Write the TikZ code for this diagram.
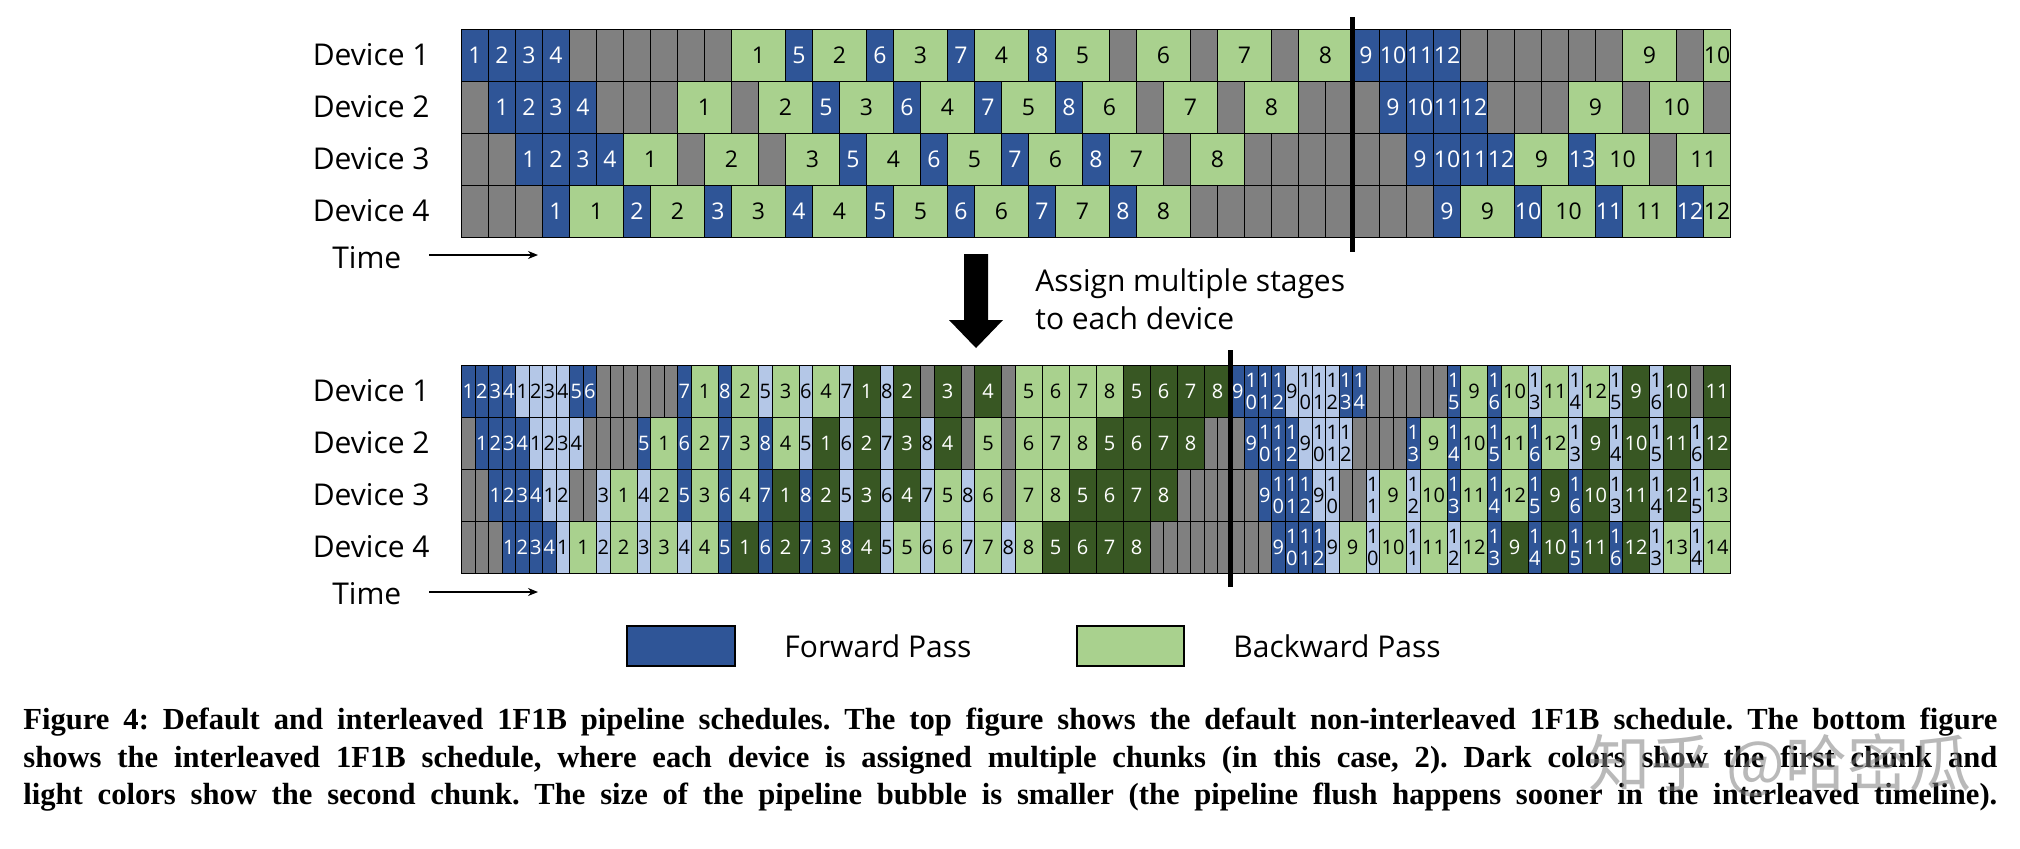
\documentclass[tikz,border=0pt]{standalone}
\usepackage{fontspec}
\setmainfont{Liberation Serif}
\newfontfamily\sfx{Open Sans}
\newfontfamily\cjk{Noto Sans CJK SC}
\usetikzlibrary{arrows.meta}
\definecolor{dblue}{HTML}{2F5597}
\definecolor{lblue}{HTML}{B4C7E7}
\definecolor{lgreen}{HTML}{A9D18E}
\definecolor{dgreen}{HTML}{385723}
\definecolor{cgray}{HTML}{808080}
\newcount\cpos
\newcommand\tw[2]{#1\\#2}
\def\cellfont{\sfx\fontsize{11.5}{12}\selectfont}
\tikzset{
 cell/.style={draw=black,line width=0.5pt,inner sep=0pt,anchor=north west,align=center,minimum height=26pt,font=\cellfont},
 F/.style={cell,fill=dblue,text=white},
 f/.style={cell,fill=lblue,text=black},
 b/.style={cell,fill=lgreen,text=black},
 h/.style={cell,fill=lgreen,text=black},
 B/.style={cell,fill=dgreen,text=white},
 G/.style={cell,fill=cgray},
 dev/.style={font=\sfx\fontsize{15}{18}\selectfont,anchor=east,inner sep=0pt},
 lbl/.style={font=\sfx\fontsize{15}{19}\selectfont,inner sep=0pt},
 captxt/.style={font=\frenchspacing\bfseries\fontsize{15.3}{18}\selectfont,anchor=west,inner sep=0pt},
 tarrow/.style={-{Stealth[length=5pt,width=4pt]},line width=0.7pt},
 flush/.style={line width=2.5pt}
}
\newcommand\schedrow[5]{%
 \global\cpos=0
 \foreach \k/\t in {#5}{%
   \if\k b\def\len{2}\else\if\k B\def\len{2}\else\def\len{1}\fi\fi
   \node[\k, minimum width=\len*#3*0.5pt] (#1-#2-\the\cpos) at ({461+\the\cpos*#3},{#4}) {\t};
   \global\advance\cpos by \len\relax
 }}
\begin{document}
\begin{tikzpicture}[x=0.5pt,y=-0.5pt]
\useasboundingbox[fill=white] (0,0) rectangle (2020,848);
% ---- top schedule ----
\schedrow{t}{1}{27}{29}{F/1,F/2,F/3,F/4,G/{},G/{},G/{},G/{},G/{},G/{},b/1,F/5,b/2,F/6,b/3,F/7,b/4,F/8,b/5,G/{},b/6,G/{},b/7,G/{},b/8,F/9,F/10,F/11,F/12,G/{},G/{},G/{},G/{},G/{},G/{},b/9,G/{},h/10}
\schedrow{t}{2}{27}{81}{G/{},F/1,F/2,F/3,F/4,G/{},G/{},G/{},b/1,G/{},b/2,F/5,b/3,F/6,b/4,F/7,b/5,F/8,b/6,G/{},b/7,G/{},b/8,G/{},G/{},G/{},F/9,F/10,F/11,F/12,G/{},G/{},G/{},b/9,G/{},b/10,G/{}}
\schedrow{t}{3}{27}{133}{G/{},G/{},F/1,F/2,F/3,F/4,b/1,G/{},b/2,G/{},b/3,F/5,b/4,F/6,b/5,F/7,b/6,F/8,b/7,G/{},b/8,G/{},G/{},G/{},G/{},G/{},G/{},F/9,F/10,F/11,F/12,b/9,F/13,b/10,G/{},b/11}
\schedrow{t}{4}{27}{185}{G/{},G/{},G/{},F/1,b/1,F/2,b/2,F/3,b/3,F/4,b/4,F/5,b/5,F/6,b/6,F/7,b/7,F/8,b/8,G/{},G/{},G/{},G/{},G/{},G/{},G/{},G/{},G/{},F/9,b/9,F/10,b/10,F/11,b/11,F/12,h/12}
\foreach \i/\y in {1/55,2/107,3/159,4/211}{\node[dev] (td\i) at (430,\y) {Device \i};}
\node[lbl,anchor=west] (ttime) at (332,258) {Time};
\coordinate (ta1) at (429,255); \coordinate (ta2) at (538,255);
\draw[tarrow] (ta1) -- (ta2);
\coordinate (tf1) at (1352,17); \coordinate (tf2) at (1352,252);
\draw[flush] (tf1) -- (tf2);
% big arrow
\fill[black] (964,254) -- (988,254) -- (988,320) -- (1003,320) -- (976,348) -- (949,320) -- (964,320) -- cycle;
\node[lbl,anchor=west,align=left] (assign) at (1035,299) {Assign multiple stages\\to each device};
% ---- bottom schedule ----
\def\cellfont{\sfx\fontsize{10}{11}\selectfont}
\schedrow{b}{1}{13.5}{365}{F/1,F/2,F/3,F/4,f/1,f/2,f/3,f/4,F/5,F/6,G/{},G/{},G/{},G/{},G/{},G/{},F/7,b/1,F/8,b/2,f/5,b/3,f/6,b/4,f/7,B/1,f/8,B/2,G/{},B/3,G/{},B/4,G/{},b/5,b/6,b/7,b/8,B/5,B/6,B/7,B/8,F/9,F/\tw10,F/\tw11,F/\tw12,f/9,f/\tw10,f/\tw11,f/\tw12,F/\tw13,F/\tw14,G/{},G/{},G/{},G/{},G/{},G/{},F/\tw15,b/9,F/\tw16,b/10,f/\tw13,b/11,f/\tw14,b/12,f/\tw15,B/9,f/\tw16,B/10,G/{},B/11}
\schedrow{b}{2}{13.5}{417}{G/{},F/1,F/2,F/3,F/4,f/1,f/2,f/3,f/4,G/{},G/{},G/{},G/{},F/5,b/1,F/6,b/2,F/7,b/3,F/8,b/4,f/5,B/1,f/6,B/2,f/7,B/3,f/8,B/4,G/{},b/5,G/{},b/6,b/7,b/8,B/5,B/6,B/7,B/8,G/{},G/{},G/{},F/9,F/\tw10,F/\tw11,F/\tw12,f/9,f/\tw10,f/\tw11,f/\tw12,G/{},G/{},G/{},G/{},F/\tw13,b/9,F/\tw14,b/10,F/\tw15,b/11,F/\tw16,b/12,f/\tw13,B/9,f/\tw14,B/10,f/\tw15,B/11,f/\tw16,B/12}
\schedrow{b}{3}{13.5}{469}{G/{},G/{},F/1,F/2,F/3,F/4,f/1,f/2,G/{},G/{},f/3,b/1,f/4,b/2,F/5,b/3,F/6,b/4,F/7,B/1,F/8,B/2,f/5,B/3,f/6,B/4,f/7,b/5,f/8,b/6,G/{},b/7,b/8,B/5,B/6,B/7,B/8,G/{},G/{},G/{},G/{},G/{},G/{},F/9,F/\tw10,F/\tw11,F/\tw12,f/9,f/\tw10,G/{},G/{},f/\tw11,b/9,f/\tw12,b/10,F/\tw13,b/11,F/\tw14,b/12,F/\tw15,B/9,F/\tw16,B/10,f/\tw13,B/11,f/\tw14,B/12,f/\tw15,b/13}
\schedrow{b}{4}{13.5}{521}{G/{},G/{},G/{},F/1,F/2,F/3,F/4,f/1,b/1,f/2,b/2,f/3,b/3,f/4,b/4,F/5,B/1,F/6,B/2,F/7,B/3,F/8,B/4,f/5,b/5,f/6,b/6,f/7,b/7,f/8,b/8,B/5,B/6,B/7,B/8,G/{},G/{},G/{},G/{},G/{},G/{},G/{},G/{},G/{},F/9,F/\tw10,F/\tw11,F/\tw12,f/9,b/9,f/\tw10,b/10,f/\tw11,b/11,f/\tw12,b/12,F/\tw13,B/9,F/\tw14,B/10,F/\tw15,B/11,F/\tw16,B/12,f/\tw13,b/13,f/\tw14,b/14}
\foreach \i/\y in {1/391,2/443,3/495,4/547}{\node[dev] (bd\i) at (430,\y) {Device \i};}
\node[lbl,anchor=west] (btime) at (332,594) {Time};
\coordinate (ba1) at (429,592); \coordinate (ba2) at (538,592);
\draw[tarrow] (ba1) -- (ba2);
\coordinate (bf1) at (1230.5,350); \coordinate (bf2) at (1230.5,587);
\draw[flush] (bf1) -- (bf2);
% legend
\node[draw=black,line width=0.6pt,fill=dblue,minimum width=54pt,minimum height=20pt,inner sep=0pt] (legF) at (681,646) {};
\node[lbl,anchor=west] (legFt) at (784,646) {Forward Pass};
\node[draw=black,line width=0.6pt,fill=lgreen,minimum width=53.5pt,minimum height=20pt,inner sep=0pt] (legB) at (1130.5,646) {};
\node[lbl,anchor=west] (legBt) at (1233,646) {Backward Pass};
% caption
\node[captxt] (cap1) at (23,722) {\makebox[987pt][s]{Figure 4: Default and interleaved 1F1B pipeline schedules. The top figure shows the default non-interleaved 1F1B schedule. The bottom figure}};
\node[captxt] (cap2) at (23,760) {\makebox[987pt][s]{shows the interleaved 1F1B schedule, where each device is assigned multiple chunks (in this case, 2). Dark colors show the first chunk and}};
\node[captxt] (cap3) at (23,797) {\makebox[987pt][s]{light colors show the second chunk. The size of the pipeline bubble is smaller (the pipeline flush happens sooner in the interleaved timeline).}};
\node[font=\cjk\fontsize{31}{34}\selectfont,text=gray,opacity=0.55,inner sep=0pt] (wm) at (1780,765) {知乎 @哈密瓜};
\end{tikzpicture}
\end{document}
